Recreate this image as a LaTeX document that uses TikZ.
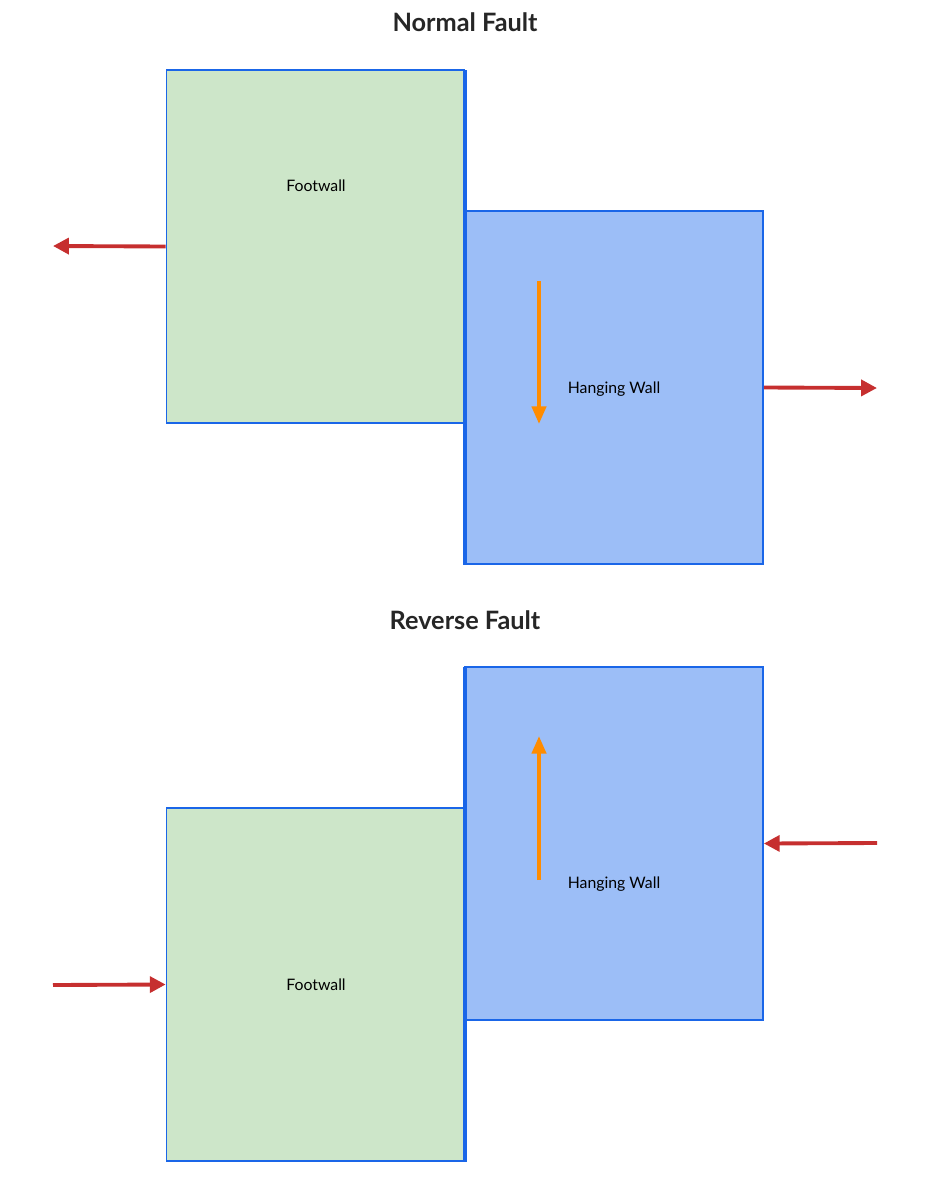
\documentclass[tikz,border=0pt]{standalone}
\usepackage{fontspec}
\setmainfont{Lato}
\usetikzlibrary{arrows.meta, positioning}
\definecolor{footwall}{HTML}{CDE6C9}
\definecolor{hanging}{HTML}{9CBEF7}
\definecolor{edge}{HTML}{1A66E8}
\definecolor{stress}{HTML}{C62F2F}
\definecolor{slip}{HTML}{FF8C00}
\begin{document}
\begin{tikzpicture}[
    x=0.02cm, y=-0.02cm,
    block/.style={rectangle, draw=edge, line width=1pt, inner sep=0pt,
                  minimum width=5.96cm, minimum height=7.06cm, font=\small, text=black!80},
    title/.style={font=\Large\bfseries, text=black!85},
    push/.style={draw=stress, line width=2.2pt, -{Triangle[length=9pt,width=9pt]}},
    move/.style={draw=slip, line width=2.2pt, -{Triangle[length=10pt,width=8pt]}},
    fault/.style={draw=edge, line width=2.2pt}
]
\useasboundingbox (0,0) rectangle (930,1200);

% Normal fault
\node[title] (ntitle) at (465,22) {Normal Fault};
\node[block, fill=footwall] (nfoot) at (315.5,246.5) {};
\node at (316,186) {\small Footwall};
\node[block, fill=hanging] (nhang) at (614,387.5) {};
\node at (614,389) {\small Hanging Wall};
\coordinate (nftop) at (465,70);
\coordinate (nfbot) at (465,565);
\draw[fault] (nftop) -- (nfbot);
\coordinate (nleft) at (53,246);
\coordinate (nright) at (877,388);
\draw[push] (nfoot.west) -- (nleft);
\draw[push] (nhang.east) -- (nright);
\coordinate (nslipa) at (539,281);
\coordinate (nslipb) at (539,424);
\draw[move] (nslipa) -- (nslipb);

% Reverse fault
\node[title] (rtitle) at (465,620) {Reverse Fault};
\node[block, fill=hanging] (rhang) at (614,843.5) {};
\node at (614,884) {\small Hanging Wall};
\node[block, fill=footwall] (rfoot) at (315.5,984.5) {};
\node at (316,985) {\small Footwall};
\coordinate (rftop) at (465,667);
\coordinate (rfbot) at (465,1162);
\draw[fault] (rftop) -- (rfbot);
\coordinate (rleft) at (53,985);
\coordinate (rright) at (877,843);
\draw[push] (rleft) -- (rfoot.west);
\draw[push] (rright) -- (rhang.east);
\coordinate (rslipa) at (539,880);
\coordinate (rslipb) at (539,736);
\draw[move] (rslipa) -- (rslipb);
\end{tikzpicture}
\end{document}
